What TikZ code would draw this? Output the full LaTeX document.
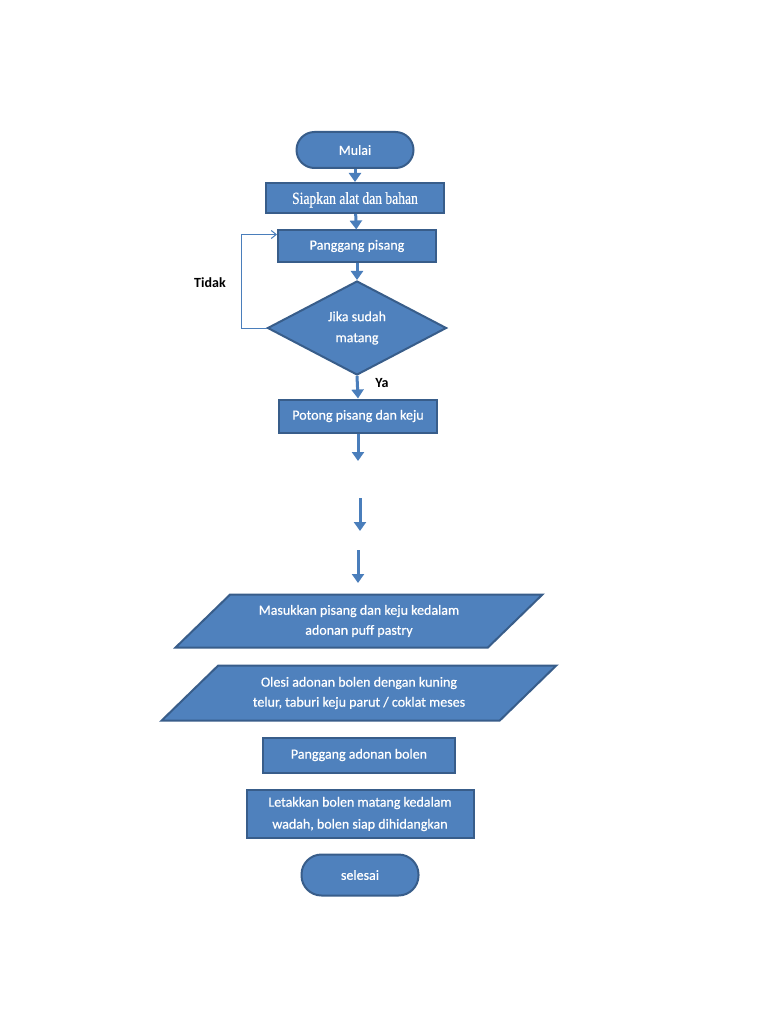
\documentclass[tikz,border=0pt]{standalone}
\usepackage{fontspec}
\setmainfont{Carlito}
\newfontfamily\boxfont[FakeBold=0.6]{Carlito}
\newfontfamily\narrowserif[FakeStretch=0.8,FakeBold=0.4]{Liberation Serif}
\usepackage{tikz}
\usetikzlibrary{arrows.meta,shapes.geometric}
\definecolor{flowfill}{RGB}{79,129,189}
\definecolor{flowedge}{RGB}{56,93,138}
\definecolor{flowarrow}{RGB}{74,126,187}
\tikzset{
  procbox/.style={draw=flowedge, line width=2pt, fill=flowfill, text=white, align=center, inner sep=0pt, font=\boxfont\fontsize{14}{20}\selectfont},
  termbox/.style={procbox, minimum width=117pt, minimum height=36pt, rounded corners=18pt},
  decbox/.style={procbox, diamond, minimum width=179pt, minimum height=94pt, font=\boxfont\fontsize{14}{21}\selectfont},
  iobox/.style={procbox, trapezium, trapezium stretches=true, trapezium left angle=37, trapezium right angle=143, minimum height=53pt},
  flow/.style={-{Triangle[length=9pt,width=12pt]}, draw=flowarrow, line width=3pt},
  back/.style={-{Straight Barb[length=5pt,width=8pt]}, draw=flowarrow, line width=1pt},
  sidelabel/.style={font=\fontsize{14}{16}\selectfont\bfseries}
}

\begin{document}
\begin{tikzpicture}[x=1pt,y=-1pt]
  \useasboundingbox[fill=white] (0,0) rectangle (768,1024);
  \node[termbox] (mulai) at (355,150) {Mulai};
  \node[procbox, minimum width=178pt, minimum height=30pt, text depth=0pt, font=\narrowserif\fontsize{17}{19}\selectfont] (siapkan) at (355,198) {Siapkan alat dan bahan};
  \node[procbox, minimum width=158pt, minimum height=31pt] (panggang) at (357,246) {Panggang pisang};
  \node[decbox] (matang) at (357,328) {Jika sudah\\matang};
  \node[procbox, minimum width=158pt, minimum height=33pt] (potong) at (358,416) {Potong pisang dan keju};
  \node[iobox, minimum width=368pt] (masukkan) at (359,621) {Masukkan pisang dan keju kedalam\\adonan puff pastry};
  \node[iobox, minimum width=395pt, minimum height=55pt] (olesi) at (359,693) {Olesi adonan bolen dengan kuning\\telur, taburi keju parut / coklat meses};
  \node[procbox, minimum width=192pt, minimum height=35pt] (oven) at (359,755) {Panggang adonan bolen};
  \node[procbox, minimum width=227pt, minimum height=48pt, font=\boxfont\fontsize{14}{22}\selectfont] (letakkan) at (360,814) {Letakkan bolen matang kedalam\\wadah, bolen siap dihidangkan};
  \node[termbox, minimum height=41pt, rounded corners=20pt] (selesai) at (360,875) {selesai};

  \node[sidelabel] (tidak) at (210,283) {Tidak};
  \node[sidelabel] (ya) at (382,383) {Ya};

  \coordinate (lepas1) at (358,461);
  \coordinate (lepas2a) at (360,498);
  \coordinate (lepas2b) at (360,531);
  \coordinate (lepas3a) at (358,550);
  \coordinate (lepas3b) at (358,583);

  \draw[flow] (mulai) -- (siapkan);
  \draw[flow] (siapkan) -- (panggang);
  \draw[flow] (panggang) -- (matang);
  \draw[flow] (matang.south) -- (potong.north);
  \draw[back] (matang.west) -- ++(-25,0) |- ([yshift=-5pt]panggang.north west);
  \draw[flow] (potong.south) -- (lepas1);
  \draw[flow] (lepas2a) -- (lepas2b);
  \draw[flow] (lepas3a) -- (lepas3b);
\end{tikzpicture}
\end{document}
